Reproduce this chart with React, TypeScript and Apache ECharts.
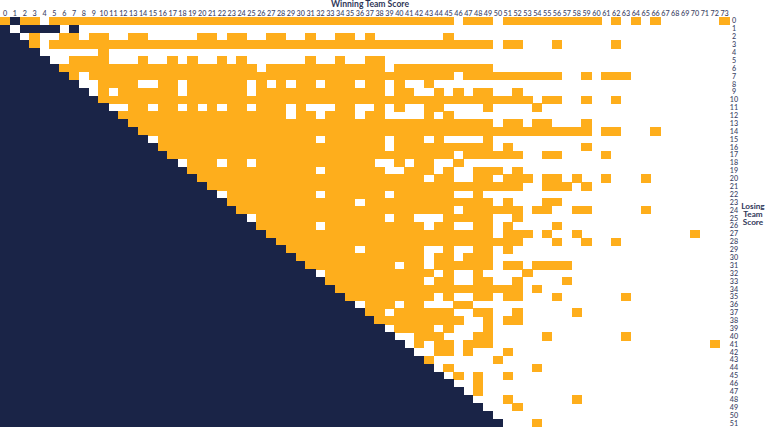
import React, { useEffect, useRef } from "react";
import * as echarts from "echarts";

const maxWinning = 73;
const maxLosing = 51;
const winningScores = Array.from({ length: maxWinning + 1 }, (_, i) => String(i));
const losingScores = Array.from({ length: maxLosing + 1 }, (_, i) => String(i));

// Extra impossible scorelines above the diagonal: [winning, losing]
const impossibleExtras = [[1, 0], [2, 1], [3, 1], [4, 1], [5, 1], [7, 1]];

// Scores that have happened, one list per losing score; [a, b] = range, [a] = single
const seenByLosing: number[][][] = [
  [[0, 0], [2, 3], [5, 45], [47, 49], [51, 60], [62], [64], [66], [73]],
  [],
  [[3], [6, 7], [9, 10], [13, 14], [20, 21], [23, 24], [27, 28], [31], [34, 35], [37], [45]],
  [[3], [5, 49], [51, 52], [56], [62]],
  [[10]],
  [[7, 10], [14], [17], [19], [22], [24], [31], [34], [37, 38]],
  [[6, 25], [27, 38], [40, 49]],
  [[7], [9, 45], [47, 56], [59], [61, 63]],
  [[10, 13], [16, 17], [19, 24], [26], [28], [30, 31], [33, 35], [37, 38], [40], [43]],
  [[10], [12, 17], [19, 24], [26, 38], [40, 41], [44], [46], [48, 49], [52]],
  [[10, 53], [55, 56], [59], [62]],
  [[13, 14], [16, 17], [19], [21], [23, 24], [26, 28], [30], [34, 35], [38], [40], [43, 44], [49], [54]],
  [[12, 28], [30, 31], [33, 35], [37, 38], [43], [45]],
  [[13, 49], [51, 52], [54, 55], [59]],
  [[14, 59], [61, 62], [66]],
  [[16, 31], [33, 38], [40, 42], [44], [49]],
  [[16, 38], [40, 49], [51], [59]],
  [[17, 45], [47, 52], [55, 56], [61]],
  [[19, 21], [23, 24], [26, 37], [40], [42, 43], [46]],
  [[19, 31], [33, 38], [41, 43], [45], [48, 50], [52]],
  [[20, 42], [44, 45], [48, 49], [51, 53], [55, 56], [58], [61], [65]],
  [[21, 52], [55, 57], [59]],
  [[23, 31], [33, 38], [40, 45], [48]],
  [[23, 35], [37, 49], [51], [55, 56]],
  [[24, 45], [47, 52], [54, 55], [58, 59], [65]],
  [[26, 38], [40, 41], [45, 49], [52]],
  [[26, 31], [33, 42], [44, 45], [48, 49], [51], [56]],
  [[27, 49], [51, 53], [55], [58], [70]],
  [[28, 52], [56], [59], [62]],
  [[29, 35], [37, 42], [45], [48, 49], [51]],
  [[30, 42], [44, 45], [47, 49]],
  [[31, 39], [41, 42], [44, 49], [51, 52], [54, 57]],
  [[33, 43], [45], [48], [53]],
  [[33, 42], [44, 45], [48, 49], [52], [57]],
  [[34, 52], [54]],
  [[35, 43], [45], [48, 49], [51, 52], [56], [63]],
  [[37, 39], [41, 42], [46, 47]],
  [[37, 38], [40, 45], [48, 49], [52], [58]],
  [[38, 46], [49], [51, 52]],
  [[40, 43], [45], [49]],
  [[42, 44], [48, 49], [55], [63]],
  [[42], [44, 45], [47, 49], [72]],
  [[44, 45], [47], [51]],
  [[43], [50]],
  [[45], [54]],
  [[46], [48], [51]],
  [[48]],
  [[48]],
  [[51], [58]],
  [[52]],
  [],
  [[54]],
];

const ORANGE = "#FEAE1C";
const NAVY = "#1A2447";
const INK = "#3C4465";
const FONT = "Lato";

const KIND_IMPOSSIBLE = 0;
const KIND_SEEN = 1;

function buildCells() {
  const cells: number[][] = impossibleExtras.map(([w, l]) => [w, l, KIND_IMPOSSIBLE]);
  seenByLosing.forEach((ranges, losing) => {
    for (let w = 0; w < losing; w++) cells.push([w, losing, KIND_IMPOSSIBLE]);
    ranges.forEach((r) => {
      const end = r.length > 1 ? r[1] : r[0];
      for (let w = r[0]; w <= end; w++) cells.push([w, losing, KIND_SEEN]);
    });
  });
  return cells;
}

export default function App() {
  const ref = useRef<HTMLDivElement>(null);

  useEffect(() => {
    document.body.style.margin = "0";
    document.body.style.background = "#fff";
    const chart = echarts.init(ref.current!, undefined, { renderer: "svg" });
    chart.setOption({
      animation: false,
      backgroundColor: "#fff",
      grid: { left: 0, top: 17, width: 729.5, height: 410, containLabel: false },
      tooltip: { show: false },
      visualMap: {
        show: false,
        type: "piecewise",
        dimension: 2,
        pieces: [
          { value: KIND_IMPOSSIBLE, color: NAVY },
          { value: KIND_SEEN, color: ORANGE },
        ],
      },
      xAxis: {
        type: "category",
        position: "top",
        data: winningScores,
        axisLine: { show: false },
        axisTick: { show: false },
        splitLine: { show: false },
        axisLabel: {
          interval: 0,
          margin: 0.2,
          hideOverlap: false,
          fontFamily: FONT,
          fontSize: 7.2,
          fontWeight: 500,
          color: INK,
        },
      },
      yAxis: {
        type: "category",
        position: "right",
        inverse: true,
        data: losingScores,
        axisLine: { show: false },
        axisTick: { show: false },
        splitLine: { show: false },
        axisLabel: {
          interval: 0,
          margin: 4.5,
          align: "center",
          hideOverlap: false,
          fontFamily: FONT,
          fontSize: 7.2,
          fontWeight: 500,
          color: INK,
        },
      },
      series: [
        {
          name: "Scorelines",
          type: "heatmap",
          data: buildCells(),
          emphasis: { disabled: true },
          progressive: 0,
        },
      ],
      graphic: [
        {
          type: "text",
          x: 370,
          y: 4.3,
          style: {
            text: "Winning Team Score",
            fontFamily: FONT,
            fontSize: 8.6,
            fontWeight: 700,
            fill: "#2E3658",
            align: "center",
            verticalAlign: "middle",
          },
        },
        {
          type: "text",
          x: 753,
          y: 214,
          style: {
            text: "Losing\nTeam\nScore",
            fontFamily: FONT,
            fontSize: 8.2,
            fontWeight: 700,
            lineHeight: 8.2,
            fill: "#2E3658",
            align: "center",
            verticalAlign: "middle",
          },
        },
      ],
    });
    return () => chart.dispose();
  }, []);

  return (
    <>
      <style>{"svg path { shape-rendering: crispEdges; }"}</style>
      <div ref={ref} style={{ width: 768, height: 427, overflow: "hidden" }} />
    </>
  );
}
